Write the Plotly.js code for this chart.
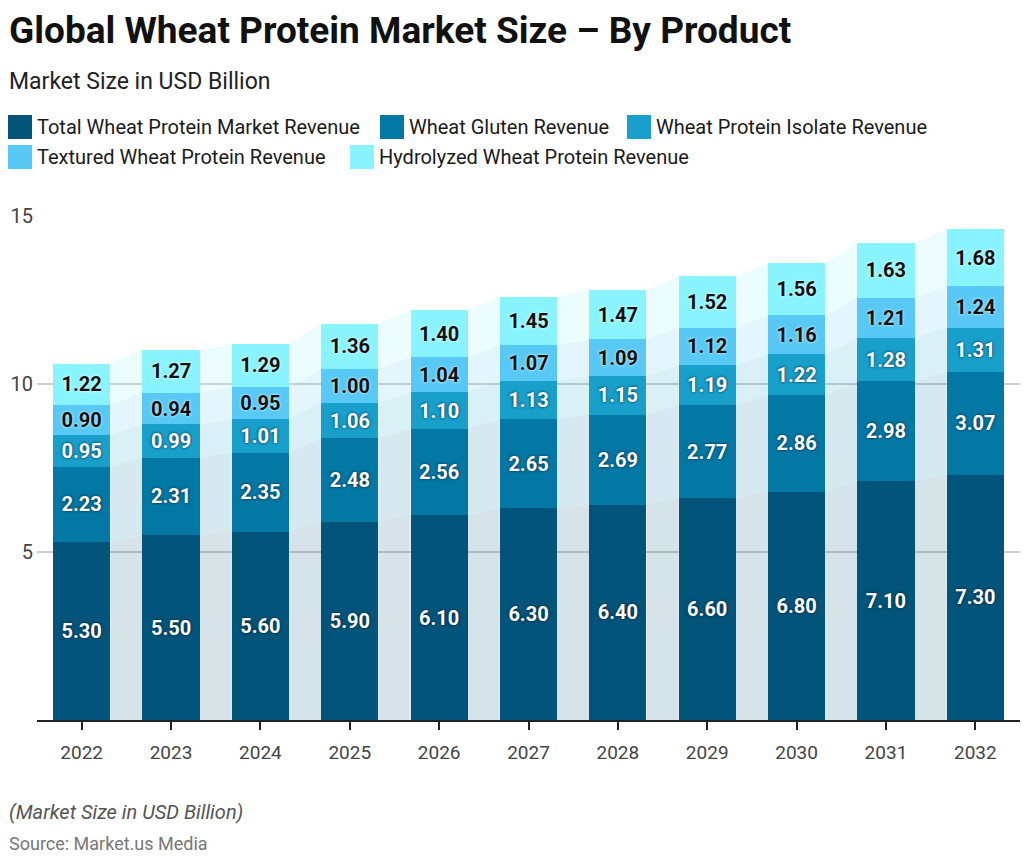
<!DOCTYPE html>
<html>
<head>
<meta charset="utf-8">
<script src="https://cdn.plot.ly/plotly-3.0.1.min.js"></script>
<style>
  html, body { margin: 0; padding: 0; background: #fff; }
  #chart { width: 1024px; height: 863px; }
</style>
</head>
<body>
<div id="chart"></div>
<script>
// Years on the x axis
const years = ['2022', '2023', '2024', '2025', '2026', '2027', '2028', '2029', '2030', '2031', '2032'];

// Revenue by product, USD billion
const totalRevenue      = [5.30, 5.50, 5.60, 5.90, 6.10, 6.30, 6.40, 6.60, 6.80, 7.10, 7.30];
const glutenRevenue     = [2.23, 2.31, 2.35, 2.48, 2.56, 2.65, 2.69, 2.77, 2.86, 2.98, 3.07];
const isolateRevenue    = [0.95, 0.99, 1.01, 1.06, 1.10, 1.13, 1.15, 1.19, 1.22, 1.28, 1.31];
const texturedRevenue   = [0.90, 0.94, 0.95, 1.00, 1.04, 1.07, 1.09, 1.12, 1.16, 1.21, 1.24];
const hydrolyzedRevenue = [1.22, 1.27, 1.29, 1.36, 1.40, 1.45, 1.47, 1.52, 1.56, 1.63, 1.68];

const seriesNames = [
  'Total Wheat Protein Market Revenue',
  'Wheat Gluten Revenue',
  'Wheat Protein Isolate Revenue',
  'Textured Wheat Protein Revenue',
  'Hydrolyzed Wheat Protein Revenue'
];
const seriesValues = [totalRevenue, glutenRevenue, isolateRevenue, texturedRevenue, hydrolyzedRevenue];

// Styling
const colors = ['#02547a', '#0378a4', '#18a0cb', '#57c9f4', '#8af4fe'];
const bandAlpha = 0.16;
const labelColors = ['#ffffff', '#ffffff', '#ffffff', '#111111', '#111111'];
const labelShadows = ['0px 0px 3px rgba(0,20,40,0.9)', '0px 0px 3px rgba(0,20,40,0.9)',
                      '0px 0px 3px rgba(0,20,40,0.9)', '0px 0px 3px #ffffff', '0px 0px 3px #ffffff'];
const FONT = 'Roboto, "Noto Sans", Arial, sans-serif';

const W = 1024, H = 863;
const M = { l: 37, r: 4, t: 216, b: 143 };
const plotW = W - M.l - M.r, plotH = H - M.t - M.b;
const px = x => (x - M.l) / plotW;
const py = y => (H - M.b - y) / plotH;

const barWidth = 0.64;
const half = barWidth / 2;
const xIdx = years.map((_, i) => i);

function hexToRgba(hex, a) {
  const n = parseInt(hex.slice(1), 16);
  return `rgba(${(n >> 16) & 255},${(n >> 8) & 255},${n & 255},${a})`;
}

// cumulative bases of the stacks
const cumulative = [];
let running = years.map(() => 0);
seriesValues.forEach(vals => {
  const lo = running.slice();
  const hi = running.map((v, i) => v + vals[i]);
  cumulative.push({ lo, hi });
  running = hi;
});

const traces = [];

// translucent bands joining each segment to the same segment of the next bar
seriesValues.forEach((vals, k) => {
  const { lo, hi } = cumulative[k];
  const xs = [], ys = [];
  for (let i = 0; i < years.length - 1; i++) {
    const a = i + half, b = i + 1 - half;
    xs.push(a, a, b, b, a, null);
    ys.push(lo[i], hi[i], hi[i + 1], lo[i + 1], lo[i], null);
  }
  traces.push({
    type: 'scatter', mode: 'lines', x: xs, y: ys,
    fill: 'toself', fillcolor: hexToRgba(colors[k], bandAlpha),
    line: { width: 0 }, hoverinfo: 'skip', showlegend: false
  });
});

// stacked bars
seriesValues.forEach((vals, k) => {
  traces.push({
    type: 'bar', name: seriesNames[k], x: xIdx, y: vals,
    width: barWidth,
    marker: { color: colors[k], line: { width: 0 } },
    texttemplate: '%{y:.2f}', textposition: 'inside', insidetextanchor: 'middle',
    textangle: 0, constraintext: 'none',
    textfont: { family: FONT, size: 20, weight: 700, color: labelColors[k], shadow: labelShadows[k] },
    showlegend: false
  });
});

// legend layout (two rows)
const legendItems = [
  { sx: 8,   y: 127 },
  { sx: 380, y: 127 },
  { sx: 627, y: 127 },
  { sx: 8,   y: 157 },
  { sx: 350, y: 157 }
];
const shapes = [];
const annotations = [];
legendItems.forEach((it, k) => {
  shapes.push({
    type: 'rect', xref: 'paper', yref: 'paper', line: { width: 0 },
    fillcolor: colors[k],
    x0: px(it.sx), x1: px(it.sx + 24), y0: py(it.y + 12), y1: py(it.y - 12)
  });
  annotations.push({
    xref: 'paper', yref: 'paper', x: px(it.sx + 27), y: py(it.y),
    xanchor: 'left', yanchor: 'middle', showarrow: false,
    text: seriesNames[k], font: { family: FONT, size: 20, color: '#1a1a1a' }
  });
});

// titles and footer
annotations.push(
  { xref: 'paper', yref: 'paper', x: px(7), y: py(30), xanchor: 'left', yanchor: 'middle', showarrow: false,
    text: '<b>Global Wheat Protein Market Size – By Product</b>', font: { family: FONT, size: 37, color: '#111' } },
  { xref: 'paper', yref: 'paper', x: px(7), y: py(81), xanchor: 'left', yanchor: 'middle', showarrow: false,
    text: 'Market Size in USD Billion', font: { family: FONT, size: 23, color: '#222' } },
  { xref: 'paper', yref: 'paper', x: px(7), y: py(812), xanchor: 'left', yanchor: 'middle', showarrow: false,
    text: '<i>(Market Size in USD Billion)</i>', font: { family: FONT, size: 20, color: '#555' } },
  { xref: 'paper', yref: 'paper', x: px(7), y: py(843), xanchor: 'left', yanchor: 'middle', showarrow: false,
    text: 'Source: Market.us Media', font: { family: FONT, size: 18, color: '#777' } }
);

const layout = {
  width: W, height: H,
  margin: M,
  paper_bgcolor: '#ffffff', plot_bgcolor: '#ffffff',
  barmode: 'stack',
  showlegend: false,
  font: { family: FONT, color: '#444' },
  xaxis: {
    range: [-0.5, 10.5], tickvals: xIdx, ticktext: years,
    showgrid: false, zeroline: false,
    showline: true, linecolor: '#222', linewidth: 2,
    ticks: 'outside', ticklen: 8, tickwidth: 2, tickcolor: '#222',
    ticklabelstandoff: 6,
    tickfont: { family: FONT, size: 19, color: '#444' }, fixedrange: true
  },
  yaxis: {
    range: [0, 15], tickvals: [5, 10, 15],
    showgrid: true, gridcolor: '#cfcfcf', gridwidth: 1.5,
    zeroline: false, showline: false, ticks: '',
    ticklabelstandoff: 3,
    tickfont: { family: FONT, size: 20, color: '#444' }, fixedrange: true
  },
  shapes, annotations
};

Plotly.newPlot('chart', traces, layout, { displayModeBar: false, staticPlot: true });
</script>
</body>
</html>
